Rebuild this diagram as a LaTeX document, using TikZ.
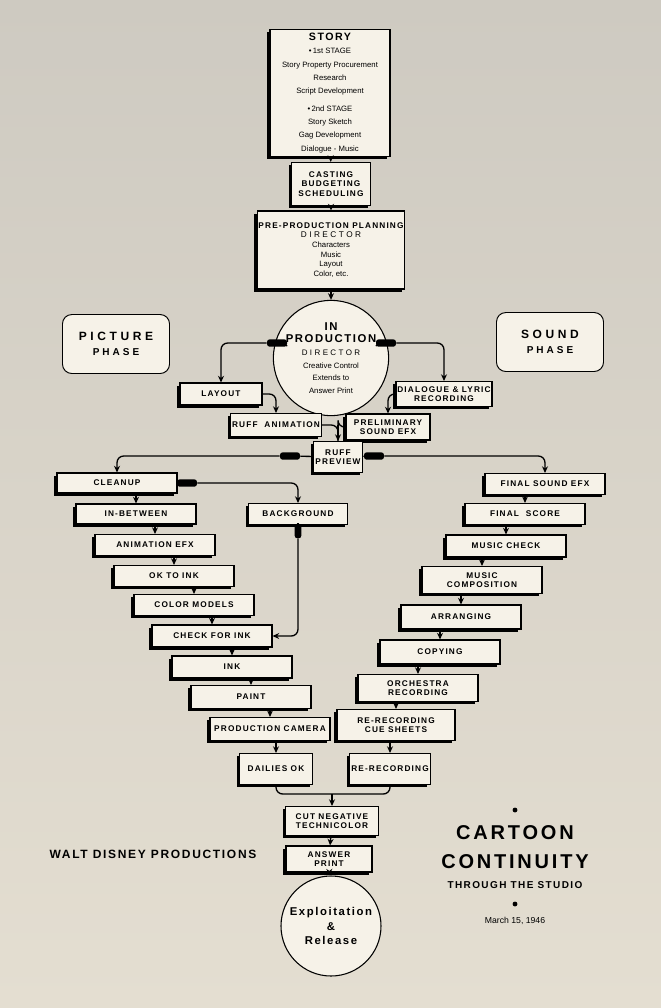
\documentclass[tikz,border=0pt]{standalone}
\usepackage{fontspec}
\setmainfont{Liberation Sans}
\newfontfamily\lab[LetterSpace=14]{Liberation Sans}
\newfontfamily\labw[LetterSpace=30]{Liberation Sans}
\usetikzlibrary{shadows,arrows.meta}
\definecolor{bgtop}{RGB}{206,202,193}
\definecolor{bgbot}{RGB}{228,222,209}
\definecolor{paper}{RGB}{246,242,232}
\newcommand{\sm}{\normalfont\mdseries\fontsize{5.8}{7.4}\selectfont}
\tikzset{
 box/.style={draw=black,line width=0.8pt,fill=paper,inner sep=1pt,align=center,
   font=\lab\bfseries\fontsize{6.2}{7.2}\selectfont,
   drop shadow={shadow xshift=-2.2pt,shadow yshift=-2.2pt,fill=black,opacity=1}},
 circ/.style={circle,draw=black,line width=0.8pt,fill=paper,inner sep=0pt,align=center},
 phase/.style={draw=black,line width=0.7pt,fill=paper,rounded corners=7pt,align=center,
   font=\labw\bfseries\fontsize{9}{11}\selectfont},
 plugh/.style={fill=black,rounded corners=2pt,minimum width=15pt,minimum height=5.5pt,inner sep=0pt},
 plugv/.style={fill=black,rounded corners=2pt,minimum width=5pt,minimum height=11pt,inner sep=0pt},
 arr/.style={line width=1pt,-{Stealth[length=5pt,width=4.5pt]},rounded corners=5pt},
 ln/.style={line width=1pt,rounded corners=5pt},
 title/.style={font=\lab\bfseries\fontsize{15}{17}\selectfont}
}
\newcommand{\bx}[6]{\node[box,minimum width=#4*0.75pt,minimum height=#5*0.75pt] (#1) at (#2,#3) {#6};}
\begin{document}
\begin{tikzpicture}[x=0.75pt,y=-0.75pt]
\useasboundingbox (0,0) rectangle (661,1008);
\shade[top color=bgtop,bottom color=bgbot] (0,0) rectangle (661,1008);
% boxes
\node[box,minimum width=120*0.75pt,minimum height=127*0.75pt,font=\lab\bfseries\fontsize{8}{10}\selectfont] (story) at (330,93)
 {STORY\\ \sm \textbullet\,1st STAGE\\ \sm Story Property Procurement\\ \sm Research\\ \sm Script Development\\[3pt]
 \sm \textbullet\,2nd STAGE\\ \sm Story Sketch\\ \sm Gag Development\\ \sm Dialogue - Music};
\bx{cast}{331}{184}{79}{43}{CASTING\\BUDGETING\\SCHEDULING}
\node[box,minimum width=138*0.75pt,minimum height=78*0.75pt] (pre) at (331,250)
 {PRE-PRODUCTION PLANNING\\ \labw\mdseries DIRECTOR\\ \sm Characters\\ \sm Music\\ \sm Layout\\ \sm Color, etc.};
\node[circ,minimum size=84*0.75pt,font=\lab\bfseries\fontsize{8.5}{9.5}\selectfont] (inprod) at (331,358)
 {IN\\PRODUCTION\\ \labw\mdseries\fontsize{6}{7.5}\selectfont DIRECTOR\\
 \normalfont\fontsize{5.8}{7}\selectfont Creative Control\\ \normalfont\fontsize{5.8}{7}\selectfont Extends to\\ \normalfont\fontsize{5.8}{7}\selectfont Answer Print};
\node[phase,minimum width=107*0.75pt,minimum height=59*0.75pt] (pic) at (116,344) {PICTURE\\ \fontsize{7.5}{9}\selectfont PHASE};
\node[phase,minimum width=107*0.75pt,minimum height=59*0.75pt] (snd) at (550,342) {SOUND\\ \fontsize{7.5}{9}\selectfont PHASE};
\bx{layout}{221}{394}{82}{22}{LAYOUT}
\bx{dial}{444}{394}{85}{25}{DIALOGUE \& LYRIC\\RECORDING}
\bx{ruffanim}{276}{425}{82}{23}{RUFF\ \ ANIMATION}
\bx{prelim}{388}{427}{84}{26}{PRELIMINARY\\SOUND EFX}
\bx{ruffprev}{338}{457}{49}{31}{RUFF\\PREVIEW}
\bx{cleanup}{117}{483}{120}{20}{CLEANUP}
\bx{fsfx}{545}{484}{120}{21}{FINAL SOUND EFX}
\bx{bg}{298}{514}{99}{21}{BACKGROUND}
\bx{inbet}{136}{514}{120}{20}{IN-BETWEEN}
\bx{fscore}{525}{514}{120}{21}{FINAL\ \ SCORE}
\bx{animefx}{155}{545}{120}{21}{ANIMATION EFX}
\bx{mcheck}{506}{546}{120}{22}{MUSIC CHECK}
\bx{okink}{174}{576}{120}{21}{OK TO INK}
\bx{mcomp}{482}{580}{120}{27}{MUSIC\\COMPOSITION}
\bx{cmodels}{194}{605}{120}{21}{COLOR MODELS}
\bx{arrang}{461}{617}{120}{24}{ARRANGING}
\bx{chkink}{212}{636}{120}{22}{CHECK FOR INK}
\bx{copy}{440}{652}{120}{24}{COPYING}
\bx{ink}{232}{667}{120}{22}{INK}
\bx{orch}{418}{688}{120}{27}{ORCHESTRA\\RECORDING}
\bx{paint}{251}{697}{120}{23}{PAINT}
\bx{pcam}{270}{729}{120}{23}{PRODUCTION CAMERA}
\bx{cue}{396}{725}{118}{31}{RE-RECORDING\\CUE SHEETS}
\bx{dailies}{276}{769}{73}{31}{DAILIES OK}
\bx{rerec}{390}{769}{72}{31}{RE-RECORDING}
\bx{cutneg}{332}{821}{93}{29}{CUT NEGATIVE\\TECHNICOLOR}
\bx{answer}{329}{859}{86}{26}{ANSWER\\PRINT}
\node[circ,minimum size=100*0.75pt,font=\lab\bfseries\fontsize{8.5}{11}\selectfont] (expl) at (331,926) {Exploitation\\\&\\Release};
% plugs
\node[plugh] (pL) at (277,343) {};
\node[plugh] (pR) at (386,343) {};
\node[plugh] (qL) at (290,456) {};
\node[plugh] (qR) at (374,456) {};
\node[plugh] (cp) at (187,483) {};
\node[plugv] (bp) at (298,531) {};
\coordinate (mb) at (332,794);
% connectors
\draw[arr] (story) -- (cast);
\draw[arr] (cast) -- (pre);
\draw[arr] (pre) -- (inprod);
\draw[ln] (inprod) -- (pL); \draw[ln] (inprod) -- (pR);
\draw[arr] (pL) -| (layout.north);
\draw[arr] (pR) -| (dial.north);
\draw[arr] (layout.east) -| (ruffanim.north);
\draw[arr] (dial.west) -| (prelim.north);
\coordinate (mg) at (ruffanim.east -| ruffprev.north);
\draw[ln] (ruffanim.east) -| (ruffprev.north);
\draw[ln] (prelim.west) -| (mg);
\draw[arr] (mg) -- (ruffprev.north);
\draw[ln] (ruffprev) -- (qL); \draw[ln] (ruffprev) -- (qR);
\draw[arr] (qL) -| (cleanup.north);
\draw[arr] (qR) -| (fsfx.north);
\draw[ln] (cleanup) -- (cp);
\draw[arr] (cp) -| (bg.north);
\draw[ln] (bg) -- (bp);
\draw[arr] (bp) |- (chkink.east);
\foreach \a/\b in {cleanup/inbet,inbet/animefx,animefx/okink,okink/cmodels,cmodels/chkink,chkink/ink,ink/paint,paint/pcam,pcam/dailies,
 fsfx/fscore,fscore/mcheck,mcheck/mcomp,mcomp/arrang,arrang/copy,copy/orch,orch/cue,cue/rerec}
 \draw[arr] (\a.south -| \b.north) -- (\b.north);
\draw[ln] (dailies.south) |- (mb) -| (rerec.south);
\draw[arr] (mb) -- (cutneg.north);
\draw[arr] (cutneg) -- (answer);
\draw[arr] (answer) -- (expl);
% texts
\node[font=\lab\bfseries\fontsize{9}{11}\selectfont] (wdp) at (153,854) {WALT DISNEY PRODUCTIONS};
\node[circle,fill=black,inner sep=1.3pt] (d1) at (515,810) {};
\node[title] (t1) at (515,833) {CARTOON};
\node[title] (t2) at (515,862) {CONTINUITY};
\node[font=\lab\bfseries\fontsize{7.5}{9}\selectfont] (t3) at (515,885) {THROUGH THE STUDIO};
\node[circle,fill=black,inner sep=1.3pt] (d2) at (515,904) {};
\node[font=\fontsize{6.5}{8}\selectfont] (t4) at (515,921) {March 15, 1946};
\end{tikzpicture}
\end{document}
